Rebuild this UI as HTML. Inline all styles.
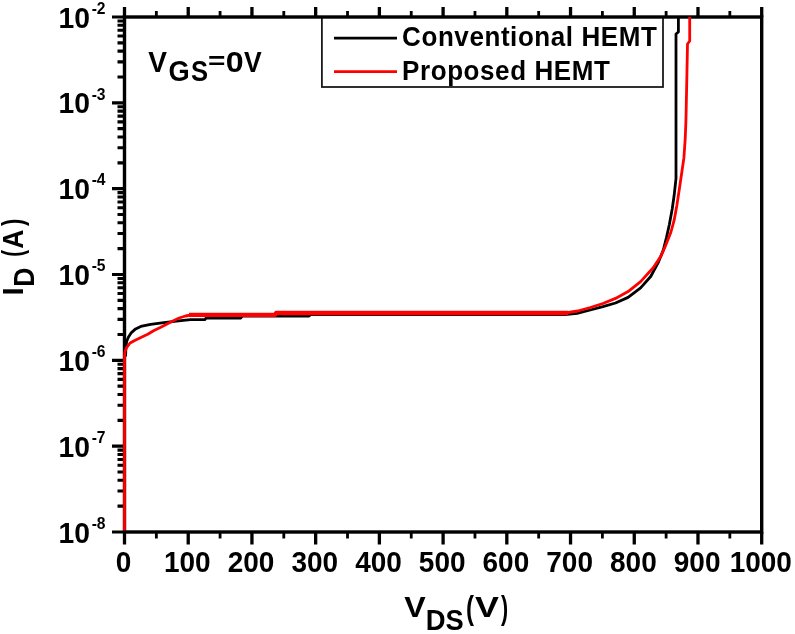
<!DOCTYPE html>
<html><head><meta charset="utf-8"><title>ID-VDS breakdown</title>
<style>html,body{margin:0;padding:0;background:#fff}svg{display:block}text{font-family:"Liberation Sans",Arial,sans-serif;font-weight:bold;fill:#000}.ax{stroke:#000;fill:none}</style></head><body>
<svg width="795" height="634" viewBox="0 0 795 634">
<rect width="795" height="634" fill="#fff"/>
<defs><clipPath id="pc"><rect x="121.5" y="17.0" width="643.2" height="513.5"/></clipPath></defs>
<rect x="321.9" y="17.0" width="341.1" height="70.0" fill="#fff" stroke="#1a1a1a" stroke-width="1.8"/>
<rect class="ax" x="124.5" y="17.0" width="637.2" height="515.0" stroke-width="3.4"/>
<path class="ax" stroke-width="3.3" d="M124.50 532.0V544.4M124.50 17.0V7.0M188.22 532.0V544.4M188.22 17.0V7.0M251.94 532.0V544.4M251.94 17.0V7.0M315.66 532.0V544.4M315.66 17.0V7.0M379.38 532.0V544.4M379.38 17.0V7.0M443.10 532.0V544.4M443.10 17.0V7.0M506.82 532.0V544.4M506.82 17.0V7.0M570.54 532.0V544.4M570.54 17.0V7.0M634.26 532.0V544.4M634.26 17.0V7.0M697.98 532.0V544.4M697.98 17.0V7.0M761.70 532.0V544.4M761.70 17.0V7.0"/>
<path class="ax" stroke-width="2.8" d="M156.36 532.0V538.5M156.36 17.0V11.0M220.08 532.0V538.5M220.08 17.0V11.0M283.80 532.0V538.5M283.80 17.0V11.0M347.52 532.0V538.5M347.52 17.0V11.0M411.24 532.0V538.5M411.24 17.0V11.0M474.96 532.0V538.5M474.96 17.0V11.0M538.68 532.0V538.5M538.68 17.0V11.0M602.40 532.0V538.5M602.40 17.0V11.0M666.12 532.0V538.5M666.12 17.0V11.0M729.84 532.0V538.5M729.84 17.0V11.0"/>
<path class="ax" stroke-width="3.1" d="M124.5 532.00H112.0M124.5 506.16H117.5M124.5 491.05H117.5M124.5 480.32H117.5M124.5 472.01H117.5M124.5 465.21H117.5M124.5 459.46H117.5M124.5 454.48H117.5M124.5 450.09H117.5M124.5 446.17H112.0M124.5 420.33H117.5M124.5 405.21H117.5M124.5 394.49H117.5M124.5 386.17H117.5M124.5 379.38H117.5M124.5 373.63H117.5M124.5 368.65H117.5M124.5 364.26H117.5M124.5 360.33H112.0M124.5 334.49H117.5M124.5 319.38H117.5M124.5 308.66H117.5M124.5 300.34H117.5M124.5 293.54H117.5M124.5 287.80H117.5M124.5 282.82H117.5M124.5 278.43H117.5M124.5 274.50H112.0M124.5 248.66H117.5M124.5 233.55H117.5M124.5 222.82H117.5M124.5 214.51H117.5M124.5 207.71H117.5M124.5 201.96H117.5M124.5 196.98H117.5M124.5 192.59H117.5M124.5 188.67H112.0M124.5 162.83H117.5M124.5 147.71H117.5M124.5 136.99H117.5M124.5 128.67H117.5M124.5 121.88H117.5M124.5 116.13H117.5M124.5 111.15H117.5M124.5 106.76H117.5M124.5 102.83H112.0M124.5 76.99H117.5M124.5 61.88H117.5M124.5 51.16H117.5M124.5 42.84H117.5M124.5 36.04H117.5M124.5 30.30H117.5M124.5 25.32H117.5M124.5 20.93H117.5M124.5 17.00H112.0"/>
<g clip-path="url(#pc)" fill="none" stroke-linejoin="round">
<polyline points="125.6,356.5 125.9,348.0 126.6,341.5 128.5,337.0 131.4,332.6 135.6,328.9 140.8,326.4 150.6,324.3 162.0,322.8 176.4,321.1 190.5,319.7 204.8,319.7 206.2,318.0 240.8,318.0 242.2,316.1 309.0,316.1 310.5,314.5 565.0,314.5 577.0,313.3 590.3,310.0 602.9,306.7 615.5,303.0 628.1,297.4 640.6,287.9 650.7,276.5 658.2,262.7 663.3,250.1 666.5,237.4 669.4,224.2 672.2,209.0 674.1,195.8 676.0,178.7 676.0,34.0 678.4,32.0 678.4,15.0" stroke="#000" stroke-width="2.8"/>
<polyline points="124.5,532.0 124.5,358.0 124.9,352.0 126.4,347.8 130.1,343.0 135.2,340.2 141.4,337.3 147.7,334.2 154.0,330.5 160.3,327.4 166.6,324.2 172.9,321.0 179.2,318.0 185.5,316.0 191.8,314.8 275.0,314.8 276.0,313.0 565.2,313.0 577.7,311.0 590.3,307.5 602.9,303.5 615.5,298.4 628.1,291.6 640.6,281.6 653.2,267.7 660.8,256.4 665.8,245.1 670.8,232.5 674.1,220.4 676.9,205.2 679.2,190.0 681.7,173.0 683.9,157.9 685.2,139.0 685.9,122.0 686.8,80.0 687.5,44.0 689.7,41.0 689.7,15.0" stroke="#f00" stroke-width="2.8"/>
<polyline points="189.0,314.8 275.0,314.8 276.2,313.0 568.0,313.0" stroke="#f00" stroke-width="4.3"/>
</g>
<text transform="translate(123.6,572.4) scale(1.0,1.07)" font-size="28" text-anchor="middle">0</text>
<text transform="translate(187.3,572.4) scale(1.0,1.07)" font-size="28" text-anchor="middle">100</text>
<text transform="translate(251.0,572.4) scale(1.0,1.07)" font-size="28" text-anchor="middle">200</text>
<text transform="translate(314.8,572.4) scale(1.0,1.07)" font-size="28" text-anchor="middle">300</text>
<text transform="translate(378.5,572.4) scale(1.0,1.07)" font-size="28" text-anchor="middle">400</text>
<text transform="translate(442.2,572.4) scale(1.0,1.07)" font-size="28" text-anchor="middle">500</text>
<text transform="translate(505.9,572.4) scale(1.0,1.07)" font-size="28" text-anchor="middle">600</text>
<text transform="translate(569.6,572.4) scale(1.0,1.07)" font-size="28" text-anchor="middle">700</text>
<text transform="translate(633.4,572.4) scale(1.0,1.07)" font-size="28" text-anchor="middle">800</text>
<text transform="translate(697.1,572.4) scale(1.0,1.07)" font-size="28" text-anchor="middle">900</text>
<text transform="translate(760.8,572.4) scale(1.0,1.07)" font-size="28" text-anchor="middle">1000</text>
<text transform="translate(58.6,542.5) scale(1.01,1.07)" font-size="28">10<tspan font-size="15.5" dx="1.6" dy="-12.9">-8</tspan></text>
<text transform="translate(58.6,456.7) scale(1.01,1.07)" font-size="28">10<tspan font-size="15.5" dx="1.6" dy="-12.9">-7</tspan></text>
<text transform="translate(58.6,370.8) scale(1.01,1.07)" font-size="28">10<tspan font-size="15.5" dx="1.6" dy="-12.9">-6</tspan></text>
<text transform="translate(58.6,285.0) scale(1.01,1.07)" font-size="28">10<tspan font-size="15.5" dx="1.6" dy="-12.9">-5</tspan></text>
<text transform="translate(58.6,199.2) scale(1.01,1.07)" font-size="28">10<tspan font-size="15.5" dx="1.6" dy="-12.9">-4</tspan></text>
<text transform="translate(58.6,113.3) scale(1.01,1.07)" font-size="28">10<tspan font-size="15.5" dx="1.6" dy="-12.9">-3</tspan></text>
<text transform="translate(58.6,27.5) scale(1.01,1.07)" font-size="28">10<tspan font-size="15.5" dx="1.6" dy="-12.9">-2</tspan></text>
<text><tspan x="148.29" y="71.50" font-size="29.09" textLength="18.71" lengthAdjust="spacingAndGlyphs">V</tspan><tspan x="168.51" y="80.81" font-size="29.26" textLength="21.20" lengthAdjust="spacingAndGlyphs">G</tspan><tspan x="191.03" y="80.81" font-size="29.26" textLength="17.08" lengthAdjust="spacingAndGlyphs">S</tspan><tspan x="208.03" y="68.52" font-size="23.31" textLength="17.40" lengthAdjust="spacingAndGlyphs">=</tspan><tspan x="225.71" y="71.51" font-size="28.98" textLength="17.91" lengthAdjust="spacingAndGlyphs">0</tspan><tspan x="243.90" y="71.50" font-size="29.09" textLength="17.68" lengthAdjust="spacingAndGlyphs">V</tspan></text>
<text><tspan x="404.26" y="617.10" font-size="29.67" textLength="21.47" lengthAdjust="spacingAndGlyphs">V</tspan><tspan x="425.75" y="630.40" font-size="28.95" textLength="19.81" lengthAdjust="spacingAndGlyphs">D</tspan><tspan x="445.38" y="630.41" font-size="28.98" textLength="18.20" lengthAdjust="spacingAndGlyphs">S</tspan><tspan x="465.90" y="619.22" font-size="33.14" textLength="7.97" lengthAdjust="spacingAndGlyphs">(</tspan><tspan x="475.13" y="617.10" font-size="29.67" textLength="23.92" lengthAdjust="spacingAndGlyphs">V</tspan><tspan x="501.05" y="619.22" font-size="33.14" textLength="7.14" lengthAdjust="spacingAndGlyphs">)</tspan></text>
<text transform="rotate(-90)"><tspan x="-295.39" y="22.80" font-size="30.25" textLength="8.19" lengthAdjust="spacingAndGlyphs">I</tspan><tspan x="-286.70" y="33.70" font-size="29.82" textLength="19.22" lengthAdjust="spacingAndGlyphs">D</tspan> <tspan x="-256.80" y="22.71" font-size="28.85" textLength="6.66" lengthAdjust="spacingAndGlyphs">(</tspan><tspan x="-248.66" y="22.60" font-size="29.96" textLength="19.08" lengthAdjust="spacingAndGlyphs">A</tspan><tspan x="-225.96" y="22.71" font-size="28.85" textLength="7.49" lengthAdjust="spacingAndGlyphs">)</tspan></text>
<path d="M334 38.2H397" stroke="#000" stroke-width="2.8" fill="none"/>
<path d="M334 71.6H397" stroke="#f00" stroke-width="2.8" fill="none"/>
<text transform="translate(402.1,45.7) scale(1,1.08)" font-size="26" letter-spacing="0.58">Conventional HEMT</text>
<text transform="translate(402.1,79.9) scale(1,1.08)" font-size="26" letter-spacing="0.58">Proposed HEMT</text>
</svg></body></html>
